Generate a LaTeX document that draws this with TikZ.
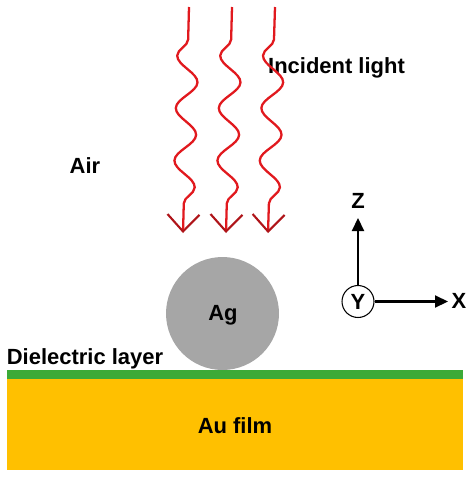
\documentclass[tikz,border=0pt]{standalone}
\usepackage{fontspec}
\setmainfont{Liberation Sans}
\usetikzlibrary{arrows.meta,decorations.pathmorphing}
\definecolor{aufilm}{RGB}{255,192,0}
\definecolor{dielgreen}{RGB}{60,170,55}
\definecolor{silver}{RGB}{166,166,166}
\definecolor{raycol}{RGB}{225,25,30}
\definecolor{tipcol}{RGB}{175,20,25}

\begin{document}
\begin{tikzpicture}[x=0.02cm, y=-0.02cm,
    every node/.style={font=\fontsize{12.5}{15}\selectfont\bfseries},
    lbl/.style={anchor=base, inner sep=0pt},
    ray/.style={draw=raycol, line width=1.3pt, decorate,
      decoration={snake, amplitude=2.1mm, segment length=10.5mm,
        pre length=6.5mm, post length=3.5mm, mirror},
      -{Straight Barb[color=tipcol, length=3.4mm, width=6.4mm, line width=1.2pt]}},
    axis/.style={line width=1.2pt, -{Triangle[length=2.6mm, width=2.4mm]}}]

    \useasboundingbox (0,0) rectangle (474,477);

    % substrate
    \fill[aufilm] (7,379) rectangle (463,470);
    \fill[dielgreen] (7,370) rectangle (463,379);

    % particle
    \node[circle, fill=silver, minimum size=2.26cm, inner sep=0pt] (ag) at (222.5,313.5) {};
    \node[lbl] (aglbl) at (223,320) {Ag};

    % labels
    \node[lbl] (air) at (85,173) {Air};
    \node[lbl] (light) at (336.5,73) {Incident light};
    \node[lbl] (diel) at (85,364) {Dielectric layer};
    \node[lbl] (au) at (235,433) {Au film};

    % incident light
    \coordinate (r1s) at (189,7);  \coordinate (r1e) at (183,233);
    \coordinate (r2s) at (232,7);  \coordinate (r2e) at (226,233);
    \coordinate (r3s) at (275,7);  \coordinate (r3e) at (268,233);
    \draw[ray] (r1s) -- (r1e);
    \draw[ray] (r2s) -- (r2e);
    \draw[ray] (r3s) -- (r3e);

    % axes
    \node[circle, draw, line width=0.6pt, minimum size=0.64cm, inner sep=0pt] (y) at (358,301.5) {Y};
    \coordinate (ztip) at (358,218);
    \coordinate (xtip) at (448,301.5);
    \draw[axis] (y.north) -- (ztip);
    \draw[axis] (y.east) -- (xtip);
    \node[lbl] (z) at (358,208) {Z};
    \node[lbl] (x) at (459,308) {X};
\end{tikzpicture}
\end{document}
